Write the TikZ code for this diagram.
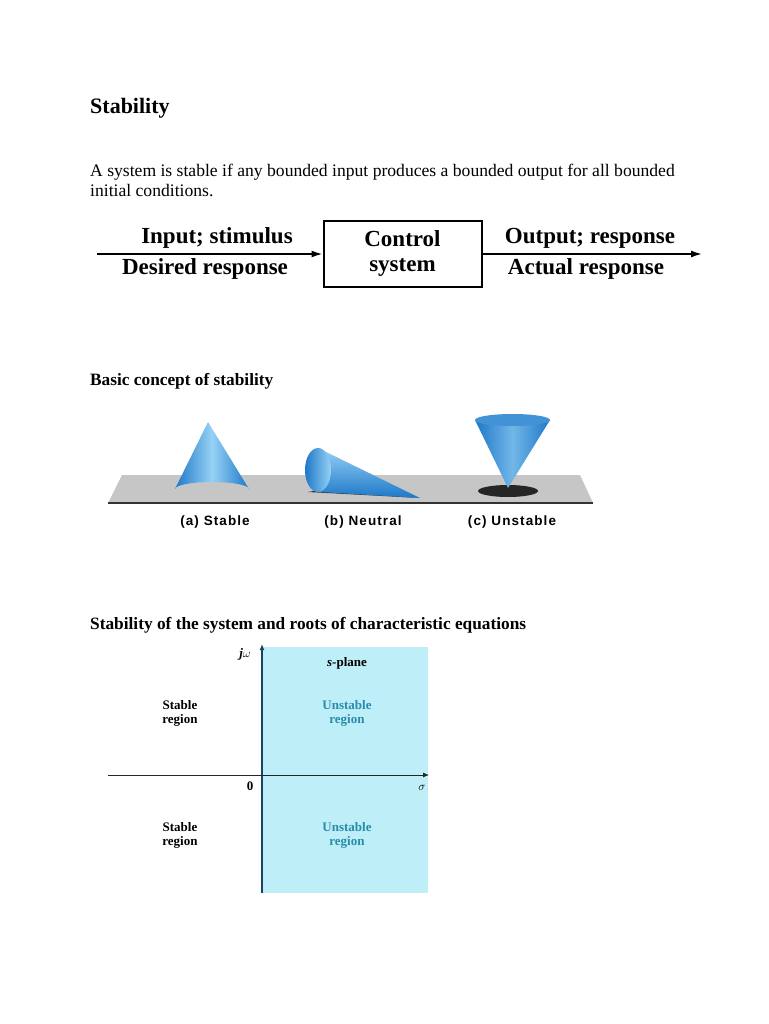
\documentclass[tikz,border=0pt]{standalone}
\usepackage{fontspec}
\setmainfont{Liberation Serif}
\newfontfamily\labfont[LetterSpace=8]{Liberation Sans}
\usetikzlibrary{arrows.meta}
\definecolor{cone}{RGB}{30,120,200}
\definecolor{conelight}{RGB}{150,210,245}
\definecolor{splane}{RGB}{190,238,248}
\definecolor{axis}{RGB}{20,70,100}
\definecolor{unst}{RGB}{40,140,170}
\begin{document}
\begin{tikzpicture}[x=1pt,y=-1pt,
  txt/.style={anchor=base west,inner sep=0,font=\fontsize{17.6}{20}\selectfont},
  head/.style={txt,font=\fontsize{17.3}{20}\selectfont\bfseries},
  blk/.style={inner sep=0,font=\fontsize{23}{25}\selectfont\bfseries},
  lab/.style={inner sep=0,font=\labfont\fontsize{13.5}{15}\selectfont\bfseries},
  sp/.style={inner sep=0,align=center,font=\fontsize{13}{14}\selectfont\bfseries}]
\useasboundingbox (0,0) rectangle (768,1024);
% text
\node[txt,font=\fontsize{22}{24}\selectfont\bfseries] (title) at (90,114) {Stability};
\node[txt] (p1) at (90,177) {A system is stable if any bounded input produces a bounded output for all bounded};
\node[txt] (p2) at (90,197) {initial conditions.};
% block diagram
\node[draw,line width=2pt,minimum width=158pt,minimum height=65pt,blk,align=center] (cs) at (402.5,254) {Control\\system};
\coordinate (in) at (97,254);
\coordinate (out) at (702,254);
\draw[line width=1.6pt,-{Latex[length=11pt,width=7pt]}] (in) -- (cs.west);
\draw[line width=1.6pt,-{Latex[length=11pt,width=7pt]}] (cs.east) -- (out);
\node[blk] (i1) at (217,238) {Input; stimulus};
\node[blk] (i2) at (205,269) {Desired response};
\node[blk] (o1) at (590,238) {Output; response};
\node[blk] (o2) at (586,269) {Actual response};
% basic concept
\node[head] (h2) at (90,385) {Basic concept of stability};
\fill[gray!45] (122,475) -- (580,475) -- (593,503) -- (108,503) -- cycle;
\draw[line width=1.5pt,gray!40!black] (108,503) -- (593,503);
% stable cone
\shade[left color=cone,right color=cone,middle color=conelight] (175,489) -- (208,422) -- (249,489) arc (0:-180:37 and 7) -- cycle;
% neutral cone
\fill[black!80] (308,492) -- (420,498) -- (330,488) -- cycle;
\shade[top color=conelight,bottom color=cone] (318,448) -- (420,498) -- (320,492) -- cycle;
\shade[left color=cone,right color=conelight] (318,470) ellipse (13 and 22);
% unstable cone
\fill[black!85] (508,491) ellipse (30 and 6);
\shade[left color=cone,right color=cone,middle color=conelight!70!cone] (475,420) -- (508,488) -- (550,420) -- cycle;
\fill[cone!70!conelight] (512.5,420) ellipse (37.5 and 6);
\node[lab] (la) at (215,522) {(a) Stable};
\node[lab] (lb) at (363,522) {(b) Neutral};
\node[lab] (lc) at (512,522) {(c) Unstable};
% s-plane
\node[head] (h3) at (90,629) {Stability of the system and roots of characteristic equations};
\fill[splane] (262,647) rectangle (428,893);
\coordinate (vb) at (262,893);
\coordinate (vt) at (262,644);
\coordinate (hl) at (108,775);
\coordinate (hr) at (429,775);
\draw[axis,line width=1.8pt,-{Latex[length=6pt,width=5pt]}] (vb) -- (vt);
\draw[gray!30!black,line width=0.8pt,-{Latex[length=6pt,width=5pt]}] (hl) -- (hr);
\node[sp] (jw) at (245,654) {\itshape j$\omega$};
\node[sp] (spl) at (347,663) {\itshape s\upshape -plane};
\node[sp] (s1) at (180,713) {Stable\\region};
\node[sp,text=unst] (u1) at (347,713) {Unstable\\region};
\node[sp] (zero) at (250,786) {0};
\node[sp] (sig) at (422,788) {$\sigma$};
\node[sp] (s2) at (180,835) {Stable\\region};
\node[sp,text=unst] (u2) at (347,835) {Unstable\\region};
\end{tikzpicture}
\end{document}
